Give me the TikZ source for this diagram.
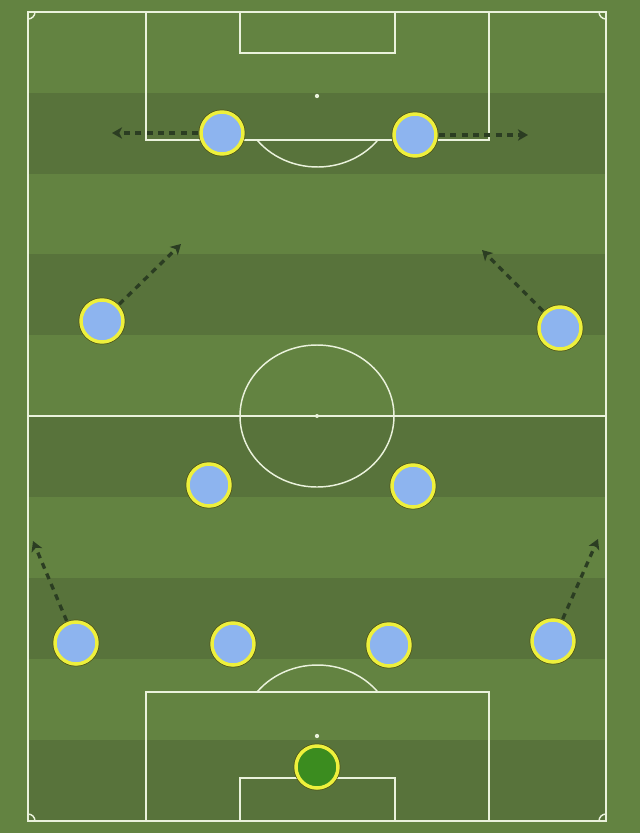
\documentclass[tikz,border=0pt]{standalone}
\usetikzlibrary{arrows.meta}
\definecolor{grasslight}{HTML}{638341}
\definecolor{grassdark}{HTML}{58733B}
\definecolor{pitchline}{HTML}{EAF2DC}
\definecolor{playerblue}{HTML}{8DB4EF}
\definecolor{ringyellow}{HTML}{EEF03C}
\definecolor{ringdark}{HTML}{4E5214}
\definecolor{keepergreen}{HTML}{3B8C1F}
\definecolor{runarrow}{HTML}{2B3D22}
\tikzset{
  pline/.style={draw=pitchline, line width=1.1pt},
  player/.style={circle, fill=playerblue, draw=ringyellow, line width=2.6pt, minimum size=31.5pt, inner sep=0pt,
    append after command={\pgfextra{\draw[ringdark, line width=0.6pt] (\tikzlastnode.center) circle (17.3pt);}}},
  keeper/.style={player, fill=keepergreen},
  run/.style={draw=runarrow, line width=2.5pt, dash pattern=on 4.5pt off 4pt, -{Stealth[length=7.5pt,width=8.5pt,inset=2pt]}, shorten <=1pt},
}
\begin{document}
\begin{tikzpicture}[x=0.75pt,y=-0.75pt]
\useasboundingbox (0,0) rectangle (640,833);
\fill[grasslight] (0,0) rectangle (640,833);
% stripes
\foreach \y in {93,254,416,578,740} {
  \fill[grassdark] (28,\y) rectangle (606,\y+81);
}
% outline and halfway line
\draw[pline] (28,12) rectangle (606,821);
\draw[pline] (28,416) -- (606,416);
\draw[pline] (317,416) ellipse [x radius=77, y radius=71];
\fill[pitchline] (317,416) circle (1.5pt);
% top penalty area
\draw[pline] (146,12) -- (146,140) -- (489,140) -- (489,12);
\draw[pline] (240,12) -- (240,53) -- (395,53) -- (395,12);
\fill[pitchline] (317,96) circle (1.6pt);
\draw[pline] (257,140) arc [start angle=141.7, end angle=38.3, x radius=77, y radius=71];
% bottom penalty area
\draw[pline] (146,821) -- (146,692) -- (489,692) -- (489,821);
\draw[pline] (240,821) -- (240,778) -- (395,778) -- (395,821);
\fill[pitchline] (317,736) circle (1.6pt);
\draw[pline] (257,692) arc [start angle=218.3, end angle=321.7, x radius=77, y radius=71];
% corner arcs
\draw[pline] (35,12) arc [start angle=0, end angle=90, radius=7];
\draw[pline] (599,12) arc [start angle=180, end angle=90, radius=7];
\draw[pline] (35,821) arc [start angle=0, end angle=-90, radius=7];
\draw[pline] (599,821) arc [start angle=180, end angle=270, radius=7];
% arrow targets
\coordinate (t1) at (112,133);
\coordinate (t2) at (528,135);
\coordinate (t3) at (181,244);
\coordinate (t4) at (482,250);
\coordinate (t5) at (33,541);
\coordinate (t6) at (598,539);
% players
\node[player] (fl) at (222,133) {};
\node[player] (fr) at (415,135) {};
\node[player] (wl) at (102,321) {};
\node[player] (wr) at (560,328) {};
\node[player] (cml) at (209,485) {};
\node[player] (cmr) at (413,486) {};
\node[player] (lb) at (76,643) {};
\node[player] (lcb) at (233,644) {};
\node[player] (rcb) at (389,645) {};
\node[player] (rb) at (553,641) {};
\node[keeper] (gk) at (317,767) {};
% runs
\draw[run] (fl) -- (t1);
\draw[run] (fr) -- (t2);
\draw[run] (wl) -- (t3);
\draw[run] (wr) -- (t4);
\draw[run] (lb) -- (t5);
\draw[run] (rb) -- (t6);
\end{tikzpicture}
\end{document}
